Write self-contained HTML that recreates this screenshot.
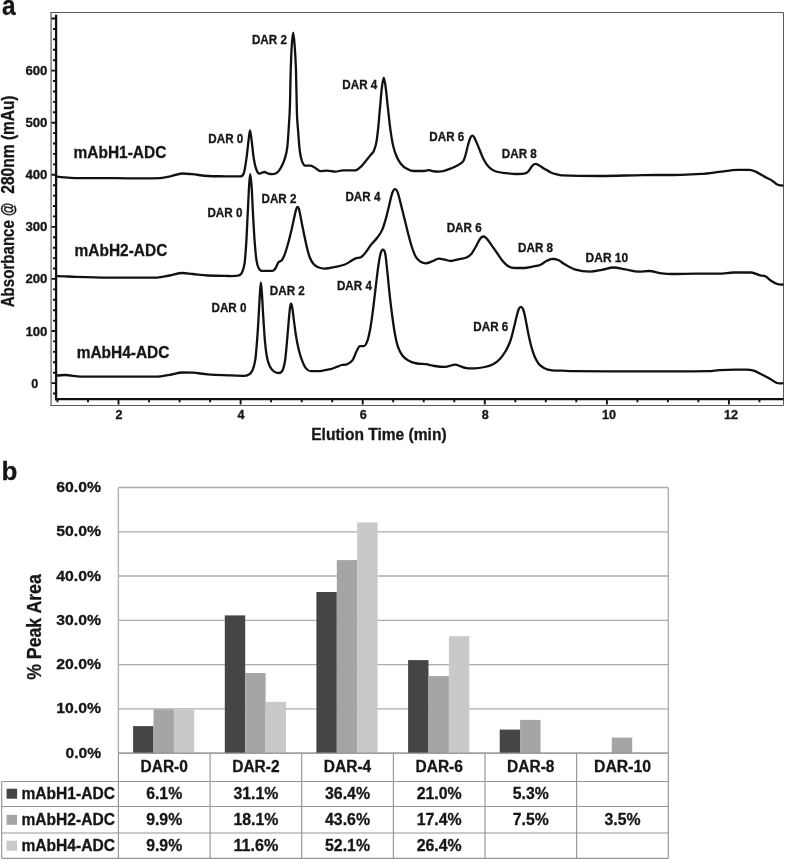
<!DOCTYPE html>
<html lang="en"><head><meta charset="utf-8"><title>HIC chromatograms and DAR distribution</title>
<style>html,body{margin:0;padding:0;background:#fff}body{width:785px;height:860px;overflow:hidden}svg{display:block}text{font-family:'Liberation Sans', Arial, Helvetica, sans-serif;font-weight:bold;fill:#161616;stroke:#161616;stroke-width:.3px}</style>
</head><body>
<svg width="785" height="860" viewBox="0 0 785 860">
<rect x="0" y="0" width="785" height="860" fill="#fff"/>
<g id="panel-a">
<text x="2.1" y="14.6" font-size="27" textLength="13.6" lengthAdjust="spacingAndGlyphs" fill="#0c0c0c">a</text>
<path d="M51.1 12.5V405.5" fill="none" stroke="#8c8c8c" stroke-width="1.7"/>
<path d="M50.3 12.5H783.5V405.5H50.3" fill="none" stroke="#5a5a5a" stroke-width="1"/>
<line x1="56.1" y1="14.8" x2="56.1" y2="400.2" stroke="#111" stroke-width="2.3"/>
<line x1="55" y1="399.1" x2="783.5" y2="399.1" stroke="#111" stroke-width="2.2"/>
<path d="M53 393.5H56M51.5 383.1H56M53 372.7H56M53 362.3H56M53 351.9H56M53 341.4H56M51.5 331.0H56M53 320.6H56M53 310.2H56M53 299.8H56M53 289.4H56M51.5 278.9H56M53 268.5H56M53 258.1H56M53 247.7H56M53 237.3H56M51.5 226.9H56M53 216.4H56M53 206.0H56M53 195.6H56M53 185.2H56M51.5 174.8H56M53 164.4H56M53 153.9H56M53 143.5H56M53 133.1H56M51.5 122.7H56M53 112.3H56M53 101.9H56M53 91.5H56M53 81.0H56M51.5 70.6H56M53 60.2H56M53 49.8H56M53 39.4H56M53 29.0H56M51.5 18.5H56" stroke="#111" stroke-width="1.9" fill="none"/>
<path d="M57.5 399V402.2M88.0 399V402.2M118.5 399V404.6M149.1 399V402.2M179.6 399V402.2M210.1 399V402.2M240.6 399V404.6M271.1 399V402.2M301.7 399V402.2M332.2 399V402.2M362.7 399V404.6M393.2 399V402.2M423.7 399V402.2M454.3 399V402.2M484.8 399V404.6M515.3 399V402.2M545.8 399V402.2M576.3 399V402.2M606.9 399V404.6M637.4 399V402.2M667.9 399V402.2M698.4 399V402.2M728.9 399V404.6M759.5 399V402.2" stroke="#111" stroke-width="1.9" fill="none"/>
<text x="34.8" y="387.6" font-size="12.6" text-anchor="middle">0</text>
<text x="25.4" y="335.5" font-size="12.6" textLength="22.1" lengthAdjust="spacingAndGlyphs">100</text>
<text x="25.4" y="283.4" font-size="12.6" textLength="22.1" lengthAdjust="spacingAndGlyphs">200</text>
<text x="25.4" y="231.4" font-size="12.6" textLength="22.1" lengthAdjust="spacingAndGlyphs">300</text>
<text x="25.4" y="179.3" font-size="12.6" textLength="22.1" lengthAdjust="spacingAndGlyphs">400</text>
<text x="25.4" y="127.2" font-size="12.6" textLength="22.1" lengthAdjust="spacingAndGlyphs">500</text>
<text x="25.4" y="75.1" font-size="12.6" textLength="22.1" lengthAdjust="spacingAndGlyphs">600</text>
<text x="119.0" y="419.3" font-size="12.6" text-anchor="middle">2</text>
<text x="241.1" y="419.3" font-size="12.6" text-anchor="middle">4</text>
<text x="363.2" y="419.3" font-size="12.6" text-anchor="middle">6</text>
<text x="485.3" y="419.3" font-size="12.6" text-anchor="middle">8</text>
<text x="609.1" y="419.3" font-size="12.6" text-anchor="middle">10</text>
<text x="731.1" y="419.3" font-size="12.6" text-anchor="middle">12</text>
<text transform="translate(14.1 307.3) rotate(-90)" font-size="17.6"><tspan x="0" textLength="87.2" lengthAdjust="spacingAndGlyphs">Absorbance</tspan> <tspan x="91.4" textLength="13.2" lengthAdjust="spacingAndGlyphs">@</tspan> <tspan x="113.5" textLength="49.5" lengthAdjust="spacingAndGlyphs">280nm</tspan> <tspan x="167.2" textLength="44.6" lengthAdjust="spacingAndGlyphs">(mAu)</tspan></text>
<text x="311.2" y="440.2" font-size="17" textLength="135.4" lengthAdjust="spacingAndGlyphs">Elution Time (min)</text>
<path id="t1" d="M56.4 176.6C59.3 176.6 62.1 177.2 65.0 177.4C68.3 177.7 71.7 178.0 75.0 178.1C88.3 178.3 101.7 178.2 115.0 178.2C130.0 178.2 145.0 178.6 160.0 178.1C163.3 178.0 166.7 177.2 170.0 176.5C174.2 175.6 178.3 173.5 182.5 173.5C185.7 173.5 188.8 173.9 192.0 174.2C197.3 174.7 202.7 175.7 208.0 176.0C213.7 176.4 219.3 176.2 225.0 176.3C230.3 176.4 235.5 176.4 240.8 176.4C241.9 176.4 242.9 176.1 244.0 172.6C244.9 169.7 245.7 163.4 246.6 157.3C247.2 152.8 247.9 145.8 248.5 140.8C249.0 136.8 249.5 130.3 250.0 130.3C250.6 130.3 251.1 136.6 251.7 140.8C252.3 145.6 253.0 153.3 253.6 157.3C254.4 162.6 255.3 166.4 256.1 168.8C257.2 171.9 258.2 173.6 259.3 173.6C261.0 173.6 262.7 172.0 264.4 172.0C265.7 172.0 266.9 173.3 268.2 173.6C269.7 174.0 271.2 174.1 272.7 174.1C274.2 174.1 275.6 173.8 277.1 172.6C278.4 171.6 279.7 169.9 281.0 167.5C282.3 165.2 283.5 162.7 284.8 158.6C285.6 155.9 286.5 153.8 287.3 147.1C287.8 142.8 288.4 133.8 288.9 125.5C289.2 120.3 289.6 116.5 289.9 106.4C290.2 98.3 290.4 79.6 290.7 71.0C291.1 59.2 291.4 50.6 291.8 45.0C292.3 37.9 292.7 32.7 293.2 32.7C293.7 32.7 294.1 38.6 294.6 45.0C295.1 51.4 295.5 57.3 296.0 71.0C296.3 79.8 296.6 104.4 296.9 112.7C297.3 124.7 297.8 126.1 298.2 131.8C298.7 138.8 299.3 146.9 299.8 151.0C300.5 156.7 301.3 159.1 302.0 161.1C303.1 164.0 304.1 165.6 305.2 165.6C306.9 165.6 308.6 165.6 310.3 165.6C311.8 165.6 313.2 166.7 314.7 167.5C316.6 168.5 318.5 171.1 320.4 171.1C322.6 171.1 324.8 170.6 327.0 170.6C329.8 170.6 332.5 171.6 335.3 171.6C337.8 171.6 340.4 170.4 342.9 170.4C347.0 170.4 351.1 170.4 355.2 170.4C357.2 170.4 359.3 168.1 361.3 166.3C362.8 164.9 364.4 162.8 365.9 160.9C367.4 159.0 369.0 157.0 370.5 155.1C371.6 153.7 372.7 153.4 373.8 151.0C374.6 149.2 375.5 146.9 376.3 142.6C376.9 139.5 377.5 134.4 378.1 128.8C378.7 123.2 379.3 115.4 379.9 108.9C380.6 101.7 381.2 92.9 381.9 87.5C382.5 82.4 383.2 77.6 383.8 77.6C384.4 77.6 385.1 82.8 385.7 87.5C386.5 93.2 387.2 102.0 388.0 108.9C388.8 115.8 389.5 123.3 390.3 128.8C391.2 135.5 392.2 141.5 393.1 145.6C394.2 150.6 395.4 153.7 396.5 156.3C398.0 159.8 399.5 162.1 401.0 164.0C402.8 166.2 404.6 167.6 406.4 168.6C408.7 169.9 411.0 171.0 413.3 171.0C416.9 171.0 420.4 171.0 424.0 171.0C425.5 171.0 427.1 170.1 428.6 170.1C430.7 170.1 432.9 171.5 435.0 171.5C437.7 171.5 440.5 171.7 443.2 171.2C446.0 170.6 448.7 169.4 451.5 168.2C453.7 167.3 456.0 166.2 458.2 164.9C459.8 163.9 461.5 163.6 463.1 161.3C463.9 160.2 464.8 157.5 465.6 154.7C466.4 151.9 467.3 147.6 468.1 144.7C468.9 141.8 469.8 139.0 470.6 137.3C471.3 136.0 471.9 135.6 472.6 135.6C473.4 135.6 474.2 137.3 475.0 138.9C476.3 141.5 477.6 144.9 478.9 148.0C480.3 151.3 481.6 155.2 483.0 158.0C484.4 160.8 485.7 163.2 487.1 164.9C488.8 167.0 490.4 168.5 492.1 169.6C494.0 170.9 496.0 171.5 497.9 172.0C500.7 172.7 503.4 172.9 506.2 173.2C509.5 173.6 512.8 174.0 516.1 174.0C519.1 174.0 522.2 174.1 525.2 173.4C526.3 173.2 527.4 172.4 528.5 171.2C529.6 170.0 530.8 167.5 531.9 166.2C533.0 165.0 534.1 163.8 535.2 163.8C536.3 163.8 537.4 164.3 538.5 164.9C540.4 165.9 542.4 167.5 544.3 168.7C546.5 170.0 548.7 171.5 550.9 172.5C552.6 173.3 554.2 173.8 555.9 174.2C558.0 174.7 560.2 175.3 562.3 175.4C574.5 175.9 586.8 176.0 599.0 176.0C613.6 176.0 628.3 175.3 642.9 175.1C655.6 174.9 668.3 175.1 681.0 174.8C687.8 174.7 694.7 174.4 701.5 173.9C707.4 173.5 713.2 172.6 719.1 171.9C725.4 171.2 731.8 169.8 738.1 169.8C742.0 169.8 745.9 169.8 749.8 169.8C751.8 169.8 753.7 170.7 755.7 171.6C759.1 173.2 762.6 175.6 766.0 177.5C767.9 178.6 769.9 179.2 771.8 180.4C773.8 181.6 775.7 183.9 777.7 184.8C779.6 185.7 781.6 185.7 783.5 185.7" fill="none" stroke="#111" stroke-width="2.3" stroke-linejoin="round" stroke-linecap="butt"/>
<path id="t2" d="M56.4 276.1C62.8 276.1 69.1 276.6 75.5 276.8C88.2 277.1 101.0 277.6 113.7 277.6C128.1 277.6 142.6 277.6 157.0 277.6C161.2 277.6 165.5 276.3 169.7 275.5C174.0 274.7 178.2 273.0 182.5 273.0C185.9 273.0 189.3 273.7 192.7 274.0C197.8 274.5 202.9 275.2 208.0 275.5C213.7 275.8 219.3 275.9 225.0 275.9C229.2 275.9 233.4 276.4 237.6 275.7C239.0 275.4 240.4 275.4 241.8 272.9C242.7 271.2 243.7 269.5 244.6 263.1C245.2 259.2 245.7 251.1 246.3 242.1C246.8 234.7 247.2 223.3 247.7 214.0C248.2 204.6 248.6 193.4 249.1 186.0C249.5 180.1 249.8 174.1 250.2 174.1C250.7 174.1 251.1 179.3 251.6 186.0C252.1 192.7 252.5 205.6 253.0 214.0C253.6 224.3 254.1 234.6 254.7 242.1C255.3 250.0 255.9 256.3 256.5 260.3C257.2 264.9 257.9 266.6 258.6 268.0C259.6 270.1 260.7 270.8 261.7 270.8C265.3 270.8 269.0 270.8 272.6 270.8C273.6 270.8 274.7 269.5 275.7 268.0C276.6 266.7 277.4 263.5 278.3 262.4C279.5 260.9 280.6 261.7 281.8 260.3C282.7 259.2 283.7 257.2 284.6 254.7C285.8 251.6 286.9 247.7 288.1 243.5C289.3 239.3 290.4 234.4 291.6 229.5C292.5 225.5 293.5 220.9 294.4 216.8C295.0 214.1 295.6 211.0 296.2 209.1C296.6 207.7 297.1 206.8 297.5 206.8C298.0 206.8 298.5 207.3 299.0 209.1C299.8 212.0 300.6 217.1 301.4 221.1C302.3 225.8 303.3 230.7 304.2 235.1C305.1 239.5 306.1 244.0 307.0 247.7C307.9 251.4 308.9 255.1 309.8 257.5C311.0 260.5 312.1 262.4 313.3 263.8C314.9 265.7 316.6 266.6 318.2 267.3C320.3 268.2 322.4 268.7 324.5 268.7C326.4 268.7 328.2 268.3 330.1 268.0C331.5 267.8 332.8 267.4 334.2 267.1C337.8 266.3 341.3 265.8 344.9 264.5C346.9 263.8 349.0 262.2 351.0 261.0C352.5 260.1 354.1 259.0 355.6 258.4C357.4 257.7 359.1 258.2 360.9 257.2C362.4 256.3 364.0 254.5 365.5 252.6C367.3 250.4 369.1 247.2 370.9 244.9C372.9 242.3 375.0 240.7 377.0 238.0C378.8 235.6 380.5 233.6 382.3 229.6C383.6 226.7 384.9 222.0 386.2 217.4C387.2 213.9 388.2 209.2 389.2 205.2C390.2 201.0 391.3 195.8 392.3 192.9C393.2 190.5 394.0 189.1 394.9 189.1C395.8 189.1 396.7 189.9 397.6 192.2C398.6 194.8 399.7 199.6 400.7 203.6C402.0 208.5 403.2 213.8 404.5 218.9C405.8 224.0 407.0 229.4 408.3 234.2C409.6 239.1 410.9 244.1 412.2 248.0C413.5 251.8 414.7 255.1 416.0 257.2C417.5 259.7 419.1 260.8 420.6 261.7C422.4 262.8 424.1 263.3 425.9 263.3C427.9 263.3 430.0 262.1 432.0 261.4C434.3 260.6 436.6 258.7 438.9 258.7C440.9 258.7 442.9 259.3 444.9 259.7C446.8 260.1 448.8 261.0 450.7 261.0C453.2 261.0 455.7 260.0 458.2 259.4C461.0 258.8 463.7 258.7 466.5 257.5C468.1 256.8 469.8 255.9 471.4 253.9C473.1 251.9 474.7 248.5 476.4 245.6C477.8 243.2 479.1 240.0 480.5 238.2C481.5 236.9 482.5 236.5 483.5 236.5C484.6 236.5 485.6 237.4 486.7 238.5C488.2 240.1 489.8 242.6 491.3 244.8C493.2 247.5 495.2 250.3 497.1 253.1C499.0 255.8 501.0 259.0 502.9 261.3C504.6 263.3 506.2 265.0 507.9 266.0C510.1 267.3 512.3 268.0 514.5 268.0C517.8 268.0 521.1 268.0 524.4 268.0C527.2 268.0 529.9 267.1 532.7 266.6C535.2 266.1 537.7 266.0 540.2 265.0C542.1 264.2 544.1 262.3 546.0 261.3C547.6 260.4 549.3 259.7 550.9 259.2C552.0 258.9 553.1 259.0 554.2 259.0C555.9 259.0 557.5 259.7 559.2 260.5C560.7 261.3 562.3 262.8 563.8 263.7C567.7 265.9 571.6 268.4 575.5 269.6C580.4 271.1 585.3 271.6 590.2 271.6C594.1 271.6 598.0 270.5 601.9 269.8C605.8 269.1 609.7 267.5 613.6 267.5C617.5 267.5 621.4 268.7 625.3 269.3C629.7 270.0 634.1 271.6 638.5 271.6C641.9 271.6 645.4 271.0 648.8 271.0C653.2 271.0 657.5 272.8 661.9 273.4C665.3 273.8 668.8 274.0 672.2 274.0C680.0 274.0 687.8 273.7 695.6 273.7C703.4 273.7 711.3 273.7 719.1 273.7C724.0 273.7 728.8 272.5 733.7 272.5C739.6 272.5 745.4 272.5 751.3 272.5C754.2 272.5 757.2 274.6 760.1 275.4C761.9 275.9 763.6 275.4 765.4 276.3C767.5 277.4 769.7 279.9 771.8 281.3C773.8 282.6 775.7 283.7 777.7 284.2C779.6 284.7 781.6 284.5 783.5 284.5" fill="none" stroke="#111" stroke-width="2.3" stroke-linejoin="round" stroke-linecap="butt"/>
<path id="t3" d="M56.4 375.5C59.4 375.5 62.3 375.0 65.3 375.0C70.4 375.0 75.5 376.6 80.6 376.6C91.6 376.6 102.7 376.6 113.7 376.6C128.1 376.6 142.6 376.6 157.0 376.6C161.2 376.6 165.5 375.5 169.7 374.8C174.0 374.1 178.2 372.5 182.5 372.5C185.9 372.5 189.3 372.5 192.7 372.7C197.8 373.1 202.9 373.9 208.0 374.3C214.8 374.8 221.5 375.0 228.3 375.3C233.3 375.5 238.4 375.8 243.4 375.8C245.3 375.8 247.1 375.5 249.0 374.4C250.2 373.7 251.3 372.9 252.5 370.2C253.4 368.0 254.4 365.8 255.3 359.7C255.9 355.8 256.5 347.7 257.1 340.1C257.6 334.2 258.0 326.8 258.5 319.0C258.9 311.8 259.4 301.8 259.8 295.2C260.2 289.6 260.5 282.6 260.9 282.6C261.3 282.6 261.6 289.9 262.0 295.2C262.5 302.0 262.9 311.8 263.4 319.0C264.0 327.7 264.5 337.0 265.1 342.9C265.8 350.1 266.5 354.9 267.2 358.3C268.1 362.8 269.1 364.9 270.0 366.7C271.4 369.4 272.8 370.6 274.2 371.6C275.8 372.7 277.5 373.0 279.1 373.0C280.3 373.0 281.4 372.7 282.6 370.2C283.5 368.3 284.3 365.5 285.2 359.7C285.8 355.5 286.5 347.1 287.1 340.1C287.7 333.1 288.4 324.6 289.0 317.6C289.4 313.6 289.7 309.5 290.1 307.1C290.4 304.9 290.8 303.6 291.1 303.6C291.5 303.6 291.8 304.9 292.2 307.1C292.8 310.5 293.3 316.1 293.9 320.4C294.6 325.7 295.3 331.7 296.0 335.9C296.9 341.5 297.9 346.2 298.8 349.9C300.0 354.6 301.1 358.1 302.3 361.1C303.5 364.1 304.6 366.7 305.8 368.1C307.4 370.1 309.1 371.2 310.7 371.2C313.0 371.2 315.4 371.2 317.7 371.2C320.0 371.2 322.4 370.6 324.7 370.2C327.0 369.8 329.4 369.4 331.7 368.8C333.6 368.3 335.4 367.4 337.3 366.7C338.7 366.2 340.1 365.4 341.5 365.0C343.4 364.5 345.3 365.0 347.2 364.2C348.9 363.5 350.7 362.8 352.4 360.4C353.9 358.4 355.3 353.6 356.8 350.8C357.8 348.9 358.8 346.1 359.8 346.1C361.1 346.1 362.5 346.1 363.8 346.1C365.0 346.1 366.1 344.3 367.3 341.2C368.3 338.6 369.2 334.3 370.2 329.0C371.1 323.9 372.1 316.9 373.0 309.8C373.8 303.5 374.7 295.8 375.5 288.9C376.4 281.2 377.4 272.6 378.3 266.2C379.1 260.7 379.9 255.9 380.7 253.1C381.5 250.4 382.2 249.6 383.0 249.6C383.8 249.6 384.5 250.1 385.3 254.0C386.0 257.4 386.6 265.2 387.3 271.4C388.1 278.5 388.8 287.1 389.6 294.1C390.4 301.7 391.3 308.7 392.1 315.0C393.0 321.5 393.8 327.7 394.7 332.5C395.7 338.2 396.8 343.3 397.8 346.4C399.3 350.8 400.7 353.2 402.2 355.2C404.2 357.9 406.3 359.3 408.3 360.4C411.2 362.0 414.1 362.9 417.0 363.5C419.9 364.1 422.8 363.8 425.7 364.2C428.6 364.6 431.6 365.6 434.5 366.0C438.0 366.5 441.4 366.9 444.9 366.9C448.4 366.9 451.9 364.6 455.4 364.6C456.9 364.6 458.5 365.7 460.0 366.2C462.2 366.9 464.4 367.9 466.6 368.2C469.4 368.6 472.1 368.3 474.9 368.3C478.2 368.3 481.5 367.7 484.8 367.0C487.6 366.4 490.3 365.6 493.1 364.2C495.3 363.0 497.5 361.5 499.7 359.2C501.6 357.2 503.6 354.6 505.5 351.3C507.2 348.4 508.8 345.2 510.5 340.5C511.6 337.4 512.7 332.4 513.8 328.1C514.7 324.4 515.7 320.1 516.6 316.5C517.3 313.7 518.1 310.6 518.8 309.0C519.5 307.4 520.2 306.9 520.9 306.9C521.7 306.9 522.4 307.6 523.2 309.5C523.9 311.3 524.7 314.7 525.4 318.2C526.3 322.6 527.3 328.6 528.2 333.1C529.2 337.9 530.2 342.6 531.2 346.3C532.3 350.3 533.4 353.6 534.5 356.2C535.9 359.4 537.2 362.0 538.6 363.7C540.5 366.0 542.5 367.2 544.4 368.2C546.9 369.4 549.4 370.0 551.9 370.3C555.5 370.8 559.1 370.6 562.7 370.7C566.5 370.9 570.4 371.2 574.2 371.2C596.1 371.4 618.1 371.4 640.0 371.4C662.9 371.4 685.9 371.6 708.8 371.2C712.4 371.1 715.9 370.3 719.5 370.1C724.8 369.8 730.2 369.6 735.5 369.6C739.1 369.6 742.6 369.6 746.2 369.6C748.7 369.6 751.2 369.9 753.7 370.7C756.6 371.6 759.4 373.3 762.3 374.7C764.5 375.8 766.8 376.9 769.0 378.2C771.7 379.7 774.3 382.1 777.0 383.0C779.2 383.7 781.3 383.2 783.5 383.2" fill="none" stroke="#111" stroke-width="2.3" stroke-linejoin="round" stroke-linecap="butt"/>
<text x="73.6" y="158.3" font-size="16.3" textLength="92.7" lengthAdjust="spacingAndGlyphs">mAbH1-ADC</text>
<text x="74.6" y="255.8" font-size="16.3" textLength="92.7" lengthAdjust="spacingAndGlyphs">mAbH2-ADC</text>
<text x="76.7" y="358.3" font-size="16.3" textLength="92.7" lengthAdjust="spacingAndGlyphs">mAbH4-ADC</text>
<text x="208.3" y="143.0" font-size="12.7" textLength="35.0" lengthAdjust="spacingAndGlyphs">DAR 0</text>
<text x="251.9" y="44.0" font-size="12.7" textLength="35.0" lengthAdjust="spacingAndGlyphs">DAR 2</text>
<text x="342.3" y="89.1" font-size="12.7" textLength="35.0" lengthAdjust="spacingAndGlyphs">DAR 4</text>
<text x="429.3" y="140.7" font-size="12.7" textLength="35.0" lengthAdjust="spacingAndGlyphs">DAR 6</text>
<text x="501.8" y="158.1" font-size="12.7" textLength="35.0" lengthAdjust="spacingAndGlyphs">DAR 8</text>
<text x="207.4" y="216.9" font-size="12.7" textLength="35.0" lengthAdjust="spacingAndGlyphs">DAR 0</text>
<text x="261.5" y="202.9" font-size="12.7" textLength="35.0" lengthAdjust="spacingAndGlyphs">DAR 2</text>
<text x="345.4" y="201.4" font-size="12.7" textLength="35.0" lengthAdjust="spacingAndGlyphs">DAR 4</text>
<text x="446.7" y="232.0" font-size="12.7" textLength="35.0" lengthAdjust="spacingAndGlyphs">DAR 6</text>
<text x="518.1" y="251.8" font-size="12.7" textLength="35.0" lengthAdjust="spacingAndGlyphs">DAR 8</text>
<text x="585.6" y="262.3" font-size="12.7" textLength="42.6" lengthAdjust="spacingAndGlyphs">DAR 10</text>
<text x="211.5" y="311.7" font-size="12.7" textLength="35.0" lengthAdjust="spacingAndGlyphs">DAR 0</text>
<text x="269.8" y="294.6" font-size="12.7" textLength="35.0" lengthAdjust="spacingAndGlyphs">DAR 2</text>
<text x="336.9" y="290.3" font-size="12.7" textLength="35.0" lengthAdjust="spacingAndGlyphs">DAR 4</text>
<text x="473.3" y="330.7" font-size="12.7" textLength="35.0" lengthAdjust="spacingAndGlyphs">DAR 6</text>
</g>
<g id="panel-b">
<text x="1.5" y="480.2" font-size="26" fill="#0c0c0c">b</text>
<path d="M118.4 753.1H668.3M118.4 708.8H668.3M118.4 664.6H668.3M118.4 620.3H668.3M118.4 576.0H668.3M118.4 531.8H668.3M118.4 487.5H668.3M118.4 487.5V753.1M668.3 487.5V753.1" stroke="#adadad" stroke-width="1.3" fill="none"/>
<text x="65.5" y="757.6" font-size="15.4" textLength="35.6" lengthAdjust="spacingAndGlyphs">0.0%</text>
<text x="56.3" y="713.3" font-size="15.4" textLength="44.8" lengthAdjust="spacingAndGlyphs">10.0%</text>
<text x="56.3" y="669.1" font-size="15.4" textLength="44.8" lengthAdjust="spacingAndGlyphs">20.0%</text>
<text x="56.3" y="624.8" font-size="15.4" textLength="44.8" lengthAdjust="spacingAndGlyphs">30.0%</text>
<text x="56.3" y="580.5" font-size="15.4" textLength="44.8" lengthAdjust="spacingAndGlyphs">40.0%</text>
<text x="56.3" y="536.3" font-size="15.4" textLength="44.8" lengthAdjust="spacingAndGlyphs">50.0%</text>
<text x="56.3" y="492.0" font-size="15.4" textLength="44.8" lengthAdjust="spacingAndGlyphs">60.0%</text>
<text transform="translate(41.3 679.8) rotate(-90)" font-size="19.4" stroke="#1a1a1a" stroke-width="0.4" textLength="105.6" lengthAdjust="spacingAndGlyphs">% Peak Area</text>
<rect x="133.1" y="726.1" width="20.4" height="27.0" fill="#454545"/>
<rect x="224.8" y="615.4" width="20.4" height="137.7" fill="#454545"/>
<rect x="316.4" y="592.0" width="20.4" height="161.1" fill="#454545"/>
<rect x="408.1" y="660.1" width="20.4" height="93.0" fill="#454545"/>
<rect x="499.7" y="729.6" width="20.4" height="23.5" fill="#454545"/>
<rect x="153.5" y="709.3" width="20.4" height="43.8" fill="#a5a5a5"/>
<rect x="245.2" y="673.0" width="20.4" height="80.1" fill="#a5a5a5"/>
<rect x="336.8" y="560.1" width="20.4" height="193.0" fill="#a5a5a5"/>
<rect x="428.5" y="676.1" width="20.4" height="77.0" fill="#a5a5a5"/>
<rect x="520.1" y="719.9" width="20.4" height="33.2" fill="#a5a5a5"/>
<rect x="611.8" y="737.6" width="20.4" height="15.5" fill="#a5a5a5"/>
<rect x="173.9" y="709.3" width="20.4" height="43.8" fill="#c9c9c9"/>
<rect x="265.6" y="701.8" width="20.4" height="51.3" fill="#c9c9c9"/>
<rect x="357.2" y="522.5" width="20.4" height="230.6" fill="#c9c9c9"/>
<rect x="448.9" y="636.2" width="20.4" height="116.9" fill="#c9c9c9"/>
<path d="M118.4 753.1H668.3M1.7 781.5H668.3M1.7 806.5H668.3M1.7 833.0H668.3M1.7 858.3H668.3M1.7 781.5V858.3M118.4 753.1V858.3M210.1 753.1V858.3M301.7 753.1V858.3M393.4 753.1V858.3M485.0 753.1V858.3M576.6 753.1V858.3M668.3 753.1V858.3" stroke="#969696" stroke-width="1.15" fill="none"/>
<text x="140.5" y="772.3" font-size="16" textLength="47.4" lengthAdjust="spacingAndGlyphs">DAR-0</text>
<text x="232.2" y="772.3" font-size="16" textLength="47.4" lengthAdjust="spacingAndGlyphs">DAR-2</text>
<text x="323.8" y="772.3" font-size="16" textLength="47.4" lengthAdjust="spacingAndGlyphs">DAR-4</text>
<text x="415.5" y="772.3" font-size="16" textLength="47.4" lengthAdjust="spacingAndGlyphs">DAR-6</text>
<text x="507.1" y="772.3" font-size="16" textLength="47.4" lengthAdjust="spacingAndGlyphs">DAR-8</text>
<text x="594.0" y="772.3" font-size="16" textLength="57.0" lengthAdjust="spacingAndGlyphs">DAR-10</text>
<rect x="6.6" y="788.7" width="10.5" height="10" fill="#454545"/>
<text x="21.4" y="798.5" font-size="15.6" textLength="93.6" lengthAdjust="spacingAndGlyphs">mAbH1-ADC</text>
<text x="146.2" y="798.9" font-size="16" textLength="36.0" lengthAdjust="spacingAndGlyphs">6.1%</text>
<text x="233.4" y="798.9" font-size="16" textLength="45.0" lengthAdjust="spacingAndGlyphs">31.1%</text>
<text x="325.0" y="798.9" font-size="16" textLength="45.0" lengthAdjust="spacingAndGlyphs">36.4%</text>
<text x="416.7" y="798.9" font-size="16" textLength="45.0" lengthAdjust="spacingAndGlyphs">21.0%</text>
<text x="512.8" y="798.9" font-size="16" textLength="36.0" lengthAdjust="spacingAndGlyphs">5.3%</text>
<rect x="6.6" y="814.8" width="10.5" height="10" fill="#a5a5a5"/>
<text x="21.4" y="824.6" font-size="15.6" textLength="93.6" lengthAdjust="spacingAndGlyphs">mAbH2-ADC</text>
<text x="146.2" y="825.0" font-size="16" textLength="36.0" lengthAdjust="spacingAndGlyphs">9.9%</text>
<text x="233.4" y="825.0" font-size="16" textLength="45.0" lengthAdjust="spacingAndGlyphs">18.1%</text>
<text x="325.0" y="825.0" font-size="16" textLength="45.0" lengthAdjust="spacingAndGlyphs">43.6%</text>
<text x="416.7" y="825.0" font-size="16" textLength="45.0" lengthAdjust="spacingAndGlyphs">17.4%</text>
<text x="512.8" y="825.0" font-size="16" textLength="36.0" lengthAdjust="spacingAndGlyphs">7.5%</text>
<text x="604.5" y="825.0" font-size="16" textLength="36.0" lengthAdjust="spacingAndGlyphs">3.5%</text>
<rect x="6.6" y="840.7" width="10.5" height="10" fill="#c9c9c9"/>
<text x="21.4" y="850.5" font-size="15.6" textLength="93.6" lengthAdjust="spacingAndGlyphs">mAbH4-ADC</text>
<text x="146.2" y="850.9" font-size="16" textLength="36.0" lengthAdjust="spacingAndGlyphs">9.9%</text>
<text x="233.4" y="850.9" font-size="16" textLength="45.0" lengthAdjust="spacingAndGlyphs">11.6%</text>
<text x="325.0" y="850.9" font-size="16" textLength="45.0" lengthAdjust="spacingAndGlyphs">52.1%</text>
<text x="416.7" y="850.9" font-size="16" textLength="45.0" lengthAdjust="spacingAndGlyphs">26.4%</text>
</g>
</svg>
</body></html>
